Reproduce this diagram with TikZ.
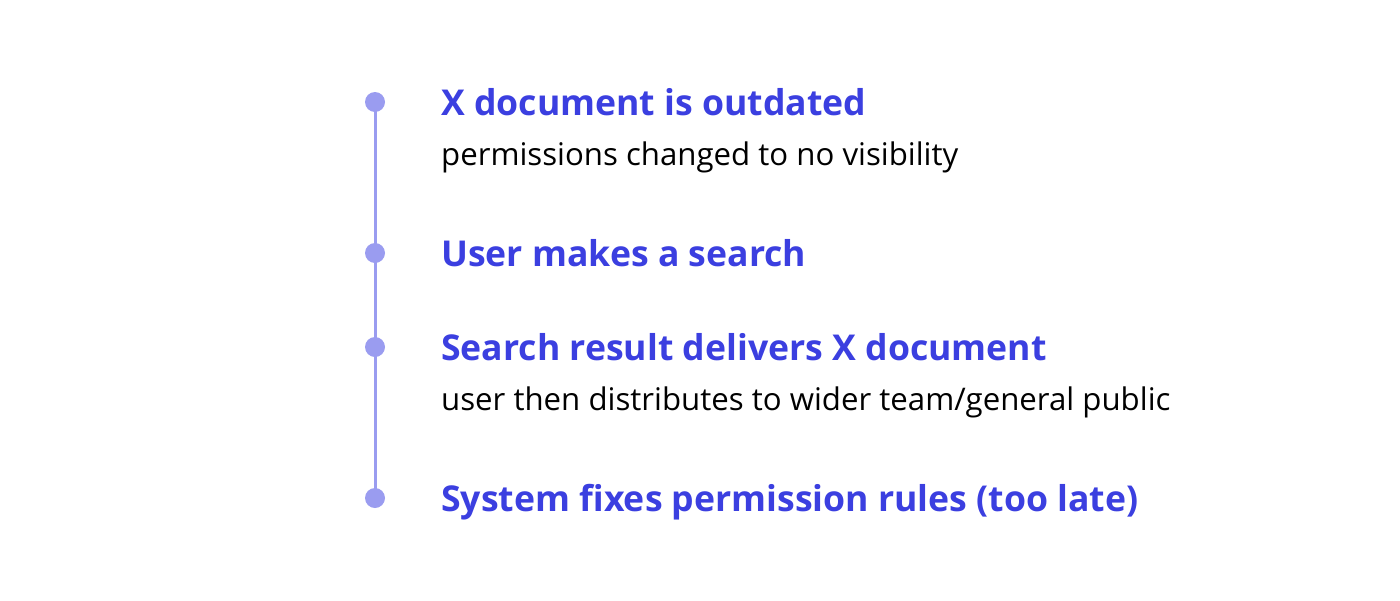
\documentclass[tikz,border=0pt]{standalone}
\usepackage{fontspec}
\setmainfont{Open Sans}
\definecolor{ttl}{HTML}{3B3FE0}
\definecolor{dotc}{HTML}{9A9CF0}
\begin{document}
\begin{tikzpicture}[x=1pt,y=-1pt,
  ttlnode/.style={anchor=base west,inner sep=0pt,text=ttl,font=\bfseries\fontsize{35.6}{40}\selectfont},
  subnode/.style={anchor=base west,inner sep=0pt,text=black,font=\fontsize{31.2}{36}\selectfont},
  dotnode/.style={circle,fill=dotc,minimum size=20pt,inner sep=0pt}]
\useasboundingbox (0,0) rectangle (1400,600);
\node[dotnode] (d1) at (375,102) {};
\node[dotnode] (d2) at (375,253) {};
\node[dotnode] (d3) at (375,347) {};
\node[dotnode] (d4) at (375,498) {};
\draw[dotc,line width=3pt] (d1.center) -- (d4.center);
\node[ttlnode] (t1) at (441,115) {X document is outdated};
\node[subnode] (s1) at (441,165) {permissions changed to no visibility};
\node[ttlnode] (t2) at (441,266) {User makes a search};
\node[ttlnode] (t3) at (441,360) {Search result delivers X document};
\node[subnode] (s3) at (441,410) {user then distributes to wider team/general public};
\node[ttlnode] (t4) at (441,511) {System fixes permission rules (too late)};
\end{tikzpicture}
\end{document}
